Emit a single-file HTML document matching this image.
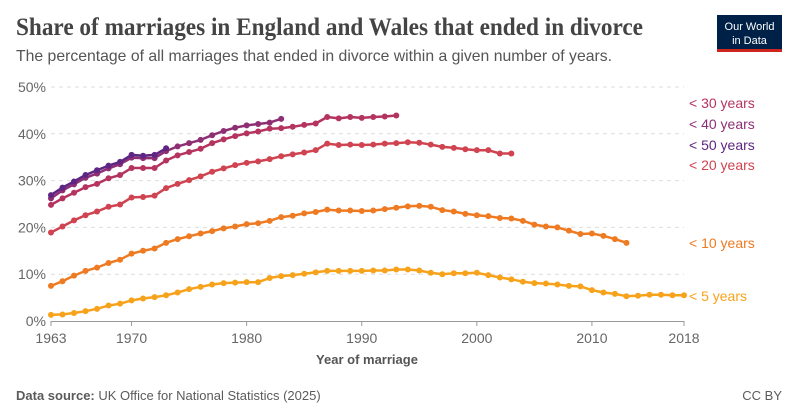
<!DOCTYPE html>
<html><head><meta charset="utf-8"><style>
body{margin:0;background:#fff;}
svg{display:block;font-family:"Liberation Sans",sans-serif;}
</style></head><body>
<svg id="c" width="800" height="418" viewBox="0 0 800 418">
<text x="16" y="35" font-family="Liberation Serif,serif" font-weight="bold" font-size="25" fill="#444" textLength="627" lengthAdjust="spacingAndGlyphs">Share of marriages in England and Wales that ended in divorce</text>
<text x="16" y="61" font-size="16" fill="#555" textLength="596" lengthAdjust="spacingAndGlyphs">The percentage of all marriages that ended in divorce within a given number of years.</text>
<g>
<rect x="717" y="15" width="65" height="34" fill="#002147"/>
<rect x="717" y="49" width="65" height="3" fill="#ce261e"/>
<text x="749.5" y="30" font-size="11" fill="#fff" text-anchor="middle">Our World</text>
<text x="749.5" y="44" font-size="11" fill="#fff" text-anchor="middle">in Data</text>
</g>
<g id="grid"></g><g id="series"></g><g id="labels"></g>
<text x="367" y="364" font-size="13" font-weight="bold" fill="#555" text-anchor="middle">Year of marriage</text>
<text x="16" y="400" font-size="13" fill="#5b5b5b"><tspan font-weight="bold">Data source:</tspan> UK Office for National Statistics (2025)</text>
<text x="782" y="400" font-size="13" fill="#5b5b5b" text-anchor="end">CC BY</text>
</svg>
<script>
const yTicks=[0,10,20,30,40,50];
const xTicks=[1963,1970,1980,1990,2000,2010,2018];
const seriesNames=["< 5 years","< 10 years","< 20 years","< 30 years","< 40 years","< 50 years"];
const startYear=1963;
const v5=[1.3,1.4,1.7,2.1,2.6,3.3,3.7,4.4,4.8,5.1,5.5,6.1,6.8,7.3,7.8,8.1,8.2,8.3,8.3,9.2,9.6,9.8,10.1,10.4,10.7,10.7,10.7,10.7,10.8,10.8,11.0,11.0,10.8,10.3,10.0,10.2,10.2,10.3,9.8,9.3,8.9,8.4,8.1,8.0,7.8,7.5,7.4,6.6,6.1,5.8,5.3,5.4,5.6,5.6,5.5,5.5];
const v10=[7.5,8.5,9.7,10.7,11.4,12.4,13.1,14.4,15.0,15.5,16.7,17.5,18.1,18.7,19.2,19.8,20.2,20.7,20.9,21.4,22.2,22.5,23.0,23.3,23.8,23.6,23.6,23.5,23.6,23.9,24.2,24.5,24.6,24.4,23.7,23.4,22.9,22.6,22.4,22.0,21.9,21.4,20.6,20.2,20.0,19.3,18.6,18.7,18.2,17.5,16.7];
const v20=[18.9,20.2,21.5,22.6,23.4,24.4,24.9,26.4,26.5,26.8,28.4,29.3,30.1,30.9,31.9,32.6,33.3,33.8,34.1,34.6,35.2,35.6,36.0,36.5,37.9,37.6,37.7,37.6,37.7,37.9,38.0,38.2,38.1,37.7,37.2,37.0,36.7,36.5,36.5,35.8,35.8];
const v30=[24.8,26.2,27.4,28.6,29.3,30.5,31.2,32.7,32.7,32.7,34.3,35.4,36.1,36.8,38.0,38.8,39.5,40.1,40.5,41.1,41.2,41.5,41.9,42.2,43.6,43.3,43.6,43.4,43.6,43.7,43.9];
const v40=[26.2,27.9,29.2,30.6,31.5,32.6,33.5,34.9,34.8,34.8,36.3,37.3,38.0,38.7,39.7,40.6,41.3,41.8,42.1,42.4,43.2];
const v50=[26.9,28.5,29.8,31.2,32.2,33.2,34.0,35.5,35.3,35.5,36.9];
const colors=["#f7a21b","#ee7a22","#d04350","#b5345f","#8e2f74","#5e2683"];
const labelY=[296,243,165,103,124,145];
const x=yr=>51+(yr-1963)*(633/55);
const y=v=>321-v*4.68;
const NS="http://www.w3.org/2000/svg";
function mk(t,a,p){const e=document.createElementNS(NS,t);for(const k in a)e.setAttribute(k,a[k]);p.appendChild(e);return e;}
const grid=document.getElementById('grid');
yTicks.forEach(t=>{
 if(t>0){const l=mk('line',{x1:51,x2:684,y1:y(t),y2:y(t),stroke:'#ddd','stroke-dasharray':'4,4'},grid);
 
 }
 const tx=mk('text',{x:46,y:y(t)+5,'text-anchor':'end','font-size':14,fill:'#666'},grid);tx.textContent=t+'%';
 
 
});
const ax=mk('line',{x1:51,x2:684,y1:321.5,y2:321.5,stroke:'#999'},grid);


xTicks.forEach(t=>{
 mk('line',{x1:x(t),x2:x(t),y1:321,y2:326,stroke:'#999'},grid);
 const tx=mk('text',{x:x(t),y:343,'text-anchor':'middle','font-size':14,fill:'#666'},grid);tx.textContent=t;
 
 
});
const all=[v5,v10,v20,v30,v40,v50];
const sg=document.getElementById('series'),lg=document.getElementById('labels');
all.forEach((vals,i)=>{
 const g=mk('g',{},sg);
 
 
 const pts=vals.map((v,j)=>x(startYear+j).toFixed(1)+','+y(v).toFixed(1)).join(' ');
 mk('polyline',{points:pts,fill:'none',stroke:colors[i],'stroke-width':2.5,'stroke-linejoin':'round'},g);
 vals.forEach((v,j)=>{const c=mk('circle',{cx:x(startYear+j),cy:y(v),r:3,fill:colors[i]},g);
  
  });
 const t=mk('text',{x:689,y:labelY[i]+5,'font-size':14,fill:colors[i]},lg);t.textContent=seriesNames[i];
 
 
});
</script>
</body></html>
